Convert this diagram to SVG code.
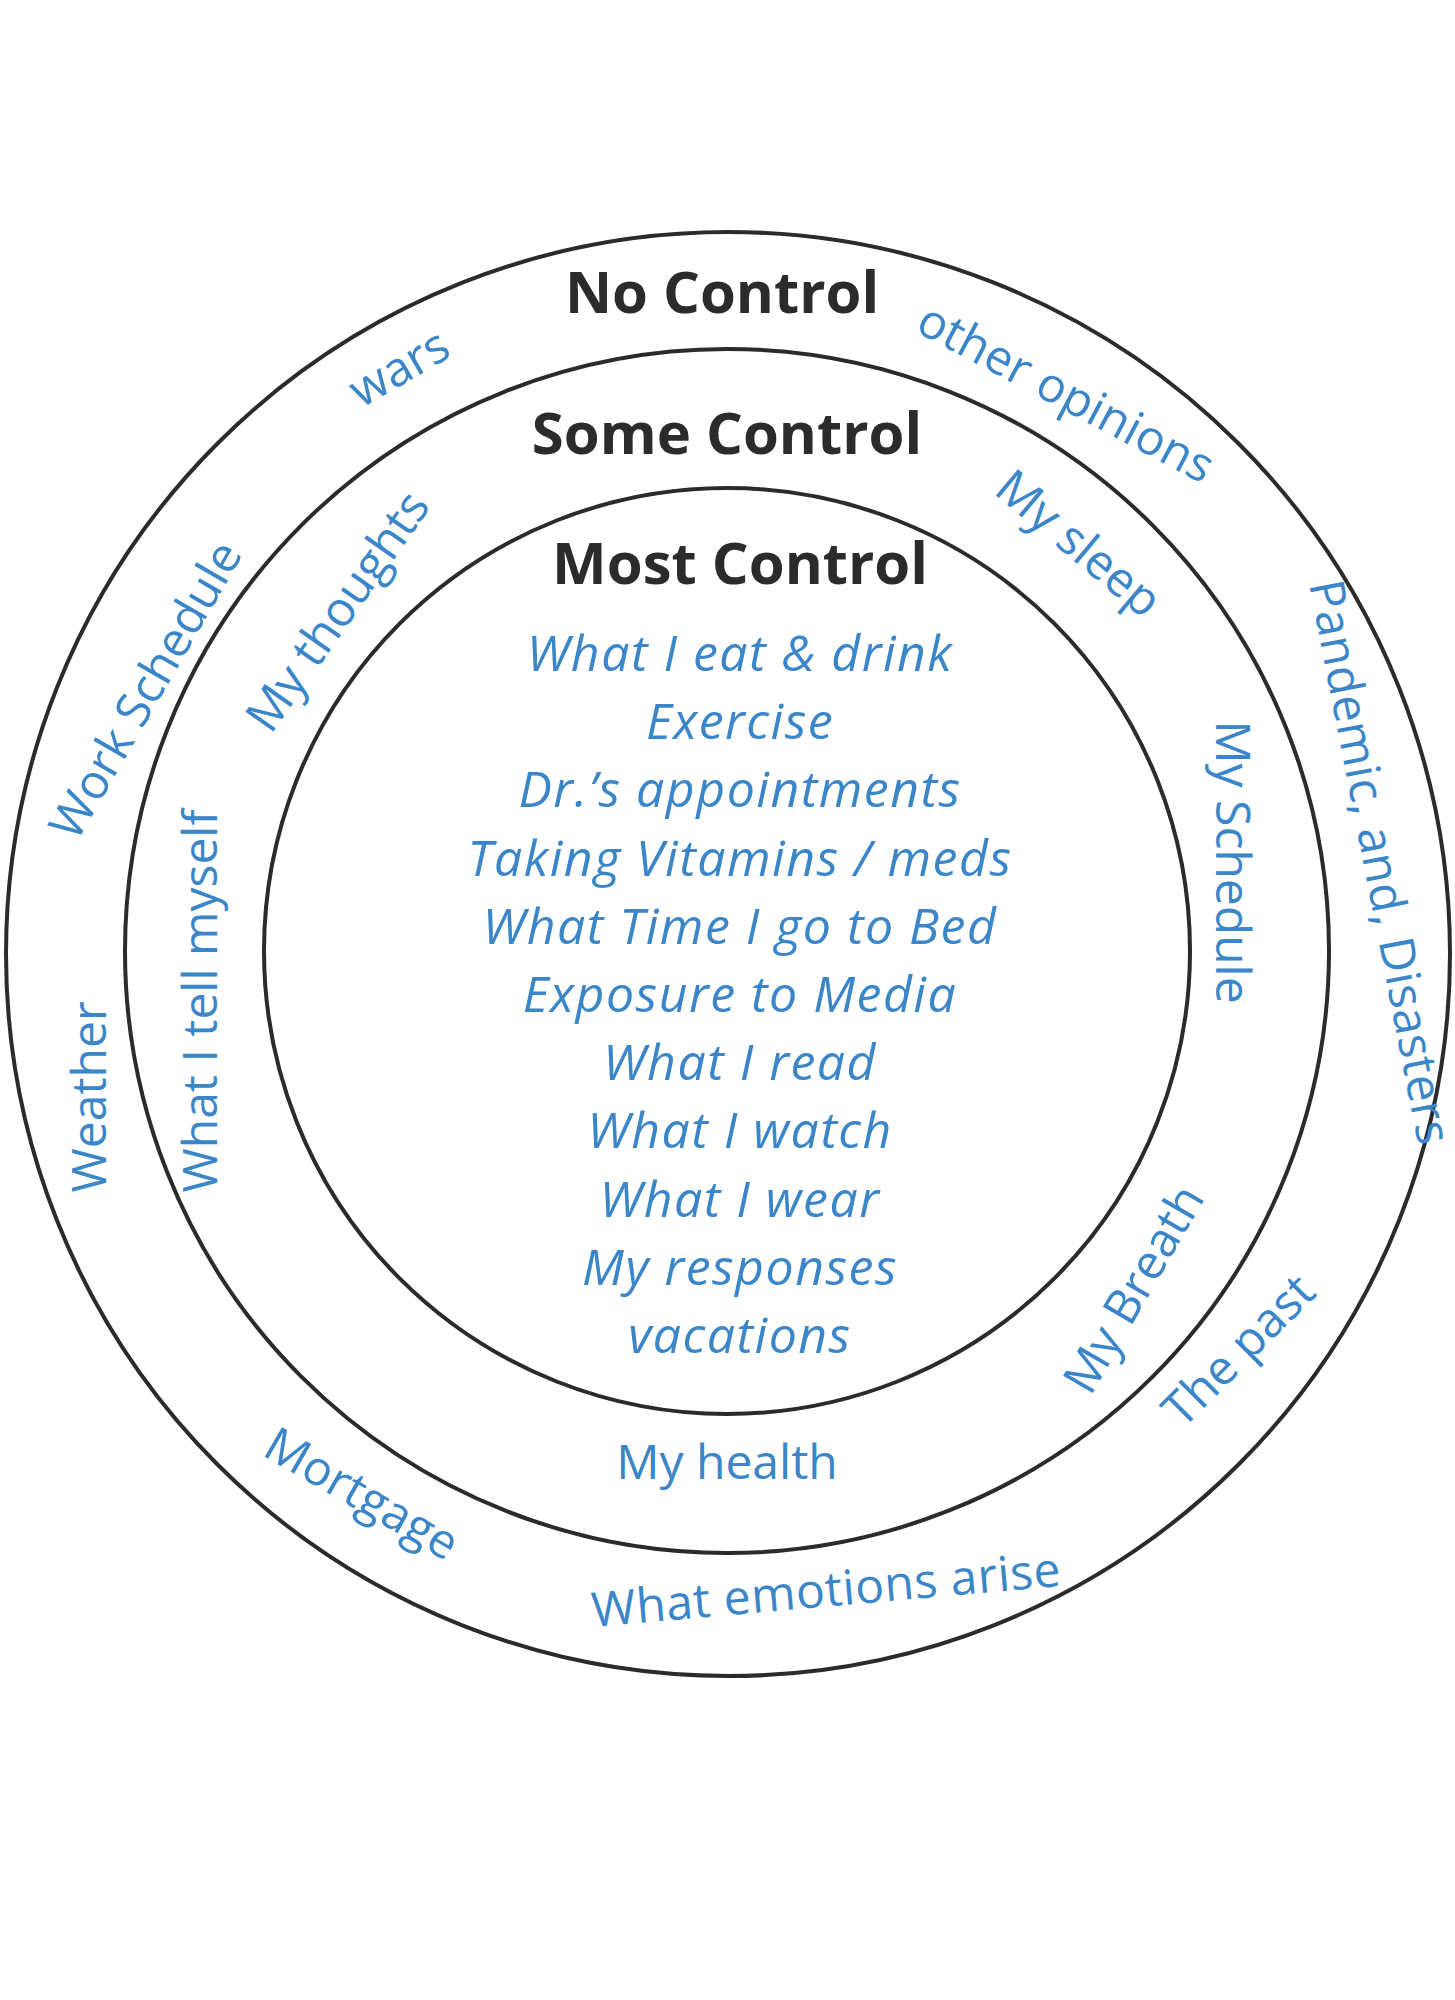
<svg xmlns="http://www.w3.org/2000/svg" width="1455" height="2000" viewBox="0 0 1455 2000">
<style>
.ring{fill:none;stroke:#2b2b2b;stroke-width:4}
.h{font-family:"Open Sans",sans-serif;font-weight:bold;font-size:58px;fill:#2b2b2b;text-anchor:middle}
.b{font-family:"Open Sans",sans-serif;font-size:48px;fill:#3a86c8;text-anchor:middle;dominant-baseline:central}
.i{font-family:"Open Sans",sans-serif;font-style:italic;font-size:50px;letter-spacing:1.5px;fill:#3a86c8;text-anchor:middle}
</style>
<rect width="1455" height="2000" fill="#fff"/>
<g id="outer"><circle class="ring" cx="728" cy="954" r="722"/>
<text class="h" x="722" y="313">No Control</text>
<text class="b" transform="translate(398,366) rotate(-30)">wars</text>
<text class="b" transform="translate(1067,391) rotate(28)">other opinions</text>
<text class="b" transform="translate(144,689) rotate(-60)">Work Schedule</text>
<text class="b" transform="translate(1382,862) rotate(79)" style="letter-spacing:0.5px">Pandemic, and, Disasters</text>
<text class="b" transform="translate(87,1097) rotate(-90)">Weather</text>
<text class="b" transform="translate(1237,1349) rotate(-45)">The past</text>
<text class="b" transform="translate(363,1492) rotate(30)">Mortgage</text>
<text class="b" transform="translate(826,1588) rotate(-5)" style="letter-spacing:0.5px">What emotions arise</text>
</g>
<g id="middle"><circle class="ring" cx="727" cy="951" r="602"/>
<text class="h" x="727" y="454">Some Control</text>
<text class="b" transform="translate(336,610) rotate(-55)">My thoughts</text>
<text class="b" transform="translate(1080,542) rotate(40)">My sleep</text>
<text class="b" transform="translate(1234,862) rotate(90)">My Schedule</text>
<text class="b" transform="translate(198,1001) rotate(-90)">What I tell myself</text>
<text class="b" transform="translate(1132,1288) rotate(-60)">My Breath</text>
<text class="b" x="727" y="1460">My health</text>
</g>
<g id="inner"><circle class="ring" cx="727" cy="951" r="463"/>
<text class="h" x="740" y="584">Most Control</text>
<text class="i" x="740" y="671">What I eat &amp; drink</text>
<text class="i" x="740" y="739">Exercise</text>
<text class="i" x="740" y="807">Dr.’s appointments</text>
<text class="i" x="740" y="876">Taking Vitamins / meds</text>
<text class="i" x="740" y="944">What Time I go to Bed</text>
<text class="i" x="740" y="1012">Exposure to Media</text>
<text class="i" x="740" y="1080">What I read</text>
<text class="i" x="740" y="1148">What I watch</text>
<text class="i" x="740" y="1217">What I wear</text>
<text class="i" x="740" y="1285">My responses</text>
<text class="i" x="740" y="1353">vacations</text>
</g>
<g id="connectors"/>
</svg>
